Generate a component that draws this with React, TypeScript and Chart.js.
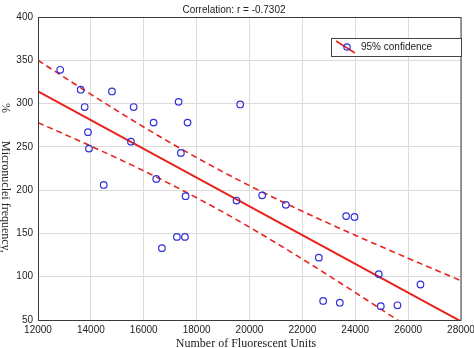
import { useEffect, useRef } from 'react';
import { Chart, registerables } from 'chart.js';

Chart.register(...registerables);

// Observed samples
const fluorescentUnits = [
  12840, 13615, 13765, 13890, 13928, 14485, 14797, 15617, 15516, 16373, 16473,
  16687, 17318, 17405, 17254, 17557, 17657, 17582, 19647, 19510, 20479, 21375,
  22622, 22786, 23416, 23655, 23971, 24890, 24966, 25597, 26466,
];
const micronucleiFreq = [
  339, 316, 296, 267, 248, 206, 314, 296, 256, 278, 213,
  133, 302, 243, 146, 146, 278, 193, 299, 188, 194, 183,
  122, 72, 70, 170, 169, 103, 66, 67, 91,
];

// Regression line
const fitX = [12000, 28000];
const fitY = [314, 48.4];

// 95% confidence band (read at each 1000 units)
const bandX = [12000, 13000, 14000, 15000, 16000, 17000, 18000, 19000, 20000, 21000, 22000, 23000, 24000, 25000, 26000, 27000, 28000];
const upperBand = [350, 330.2, 310.7, 291.6, 272.9, 254.9, 237.6, 221, 205.2, 190.1, 175.6, 161.6, 147.9, 134.5, 121.3, 108.3, 95.4];
const lowerBand = [278, 264.6, 250.9, 236.8, 222.3, 207.1, 191.2, 174.6, 157.2, 139.1, 120.4, 101.2, 81.7, 61.9, 41.9, 21.7, 1.4];

const xRange = [12000, 28000];
const xStep = 2000;
const yRange = [50, 400];
const yStep = 50;

const titleText = 'Correlation: r = -0.7302';
const xLabel = 'Number of Fluorescent Units';
const yLabelMain = 'Micronuclei frequency,';
const yLabelUnit = '%';
const legendText = '95% confidence';

const RED = '#e8231d';
const BLUE = '#3030d8';

export default function App() {
  const ref = useRef<HTMLCanvasElement | null>(null);

  useEffect(() => {
    document.body.style.margin = '0';
    const canvas = ref.current;
    if (!canvas) return;

    const decor = {
      id: 'decor',
      afterDatasetsDraw(chart: any) {
        const ctx = chart.ctx as CanvasRenderingContext2D;
        const a = chart.chartArea;
        ctx.save();
        // frame
        ctx.strokeStyle = '#3a3a3a';
        ctx.lineWidth = 1;
        ctx.strokeRect(Math.round(a.left) + 0.5, Math.round(a.top) + 0.5, Math.round(a.right - a.left) - 1 + 0.5, Math.round(a.bottom - a.top));
        // legend box
        const lx = 331, ly = 38, lw = 130, lh = 18;
        ctx.fillStyle = '#ffffff';
        ctx.fillRect(lx, ly, lw, lh);
        ctx.strokeStyle = '#444';
        ctx.strokeRect(lx + 0.5, ly + 0.5, lw, lh);
        ctx.strokeStyle = RED;
        ctx.lineWidth = 1.5;
        ctx.beginPath();
        ctx.moveTo(336, 41);
        ctx.lineTo(355, 53);
        ctx.stroke();
        ctx.strokeStyle = BLUE;
        ctx.lineWidth = 1.2;
        ctx.beginPath();
        ctx.arc(347, 47, 3.2, 0, Math.PI * 2);
        ctx.stroke();
        ctx.fillStyle = '#222';
        ctx.font = '10px "Liberation Sans", Arial, sans-serif';
        ctx.textAlign = 'left';
        ctx.textBaseline = 'middle';
        ctx.fillText(legendText, 361, 47.5);
        // title
        ctx.textAlign = 'center';
        ctx.font = '10px "Liberation Sans", Arial, sans-serif';
        ctx.fillText(titleText, 234, 10);
        // x label
        ctx.font = '12px "Liberation Serif", "Times New Roman", serif';
        ctx.fillText(xLabel, 246, 344);
        // y label (rotated clockwise)
        ctx.save();
        ctx.translate(5, 0);
        ctx.rotate(Math.PI / 2);
        ctx.textAlign = 'center';
        ctx.fillText(yLabelUnit, 108, 0);
        ctx.textAlign = 'left';
        ctx.fillText(yLabelMain, 141, 0);
        ctx.restore();
        ctx.restore();
      },
    };

    const chart = new Chart(canvas, {
      type: 'scatter',
      data: {
        datasets: [
          {
            label: 'Data',
            data: fluorescentUnits.map((x, i) => ({ x, y: micronucleiFreq[i] })),
            showLine: false,
            pointStyle: 'circle',
            pointRadius: 3.3,
            pointBorderWidth: 1.2,
            pointBorderColor: BLUE,
            pointBackgroundColor: 'rgba(0,0,0,0)',
          },
          {
            label: 'Fit',
            data: fitX.map((x, i) => ({ x, y: fitY[i] })),
            showLine: true,
            borderColor: RED,
            borderWidth: 2,
            pointRadius: 0,
          },
          {
            label: 'Upper',
            data: bandX.map((x, i) => ({ x, y: upperBand[i] })),
            showLine: true,
            borderColor: RED,
            borderWidth: 1.6,
            borderDash: [6, 4],
            pointRadius: 0,
            cubicInterpolationMode: 'monotone',
          },
          {
            label: 'Lower',
            data: bandX.map((x, i) => ({ x, y: lowerBand[i] })),
            showLine: true,
            borderColor: RED,
            borderWidth: 1.6,
            borderDash: [6, 4],
            pointRadius: 0,
            cubicInterpolationMode: 'monotone',
          },
        ],
      },
      options: {
        animation: false,
        responsive: false,
        devicePixelRatio: 1,
        layout: { padding: { top: 17, right: 13, left: 0, bottom: 0 } },
        plugins: {
          legend: { display: false },
          title: { display: false },
          tooltip: { enabled: false },
        },
        scales: {
          x: {
            type: 'linear',
            min: xRange[0],
            max: xRange[1],
            afterFit: (s: any) => {
              s.height = 28;
              s.paddingLeft = 0;
              s.paddingRight = 0;
            },
            afterBuildTicks: (s: any) => {
              const t = [];
              for (let v = xRange[0]; v <= xRange[1]; v += xStep) t.push({ value: v });
              s.ticks = t;
            },
            ticks: {
              autoSkip: false,
              maxRotation: 0,
              padding: 4,
              color: '#222',
              font: { family: '"Liberation Sans", Arial, sans-serif', size: 10 },
              callback: (v: any) => String(v),
            },
            grid: { color: '#dcdcdc', drawTicks: false, lineWidth: 1 },
            border: { display: false },
          },
          y: {
            type: 'linear',
            min: yRange[0],
            max: yRange[1],
            afterFit: (s: any) => {
              s.width = 38;
              s.paddingTop = 0;
              s.paddingBottom = 0;
            },
            afterBuildTicks: (s: any) => {
              const t = [];
              for (let v = yRange[0]; v <= yRange[1]; v += yStep) t.push({ value: v });
              s.ticks = t;
            },
            ticks: {
              autoSkip: false,
              padding: 5,
              color: '#222',
              font: { family: '"Liberation Sans", Arial, sans-serif', size: 10 },
              callback: (v: any) => String(v),
            },
            grid: { color: '#dcdcdc', drawTicks: false, lineWidth: 1 },
            border: { display: false },
          },
        },
      },
      plugins: [decor],
    });

    return () => chart.destroy();
  }, []);

  return (
    <div style={{ width: 474, height: 348, background: '#fff' }}>
      <canvas ref={ref} width={474} height={348} />
    </div>
  );
}
